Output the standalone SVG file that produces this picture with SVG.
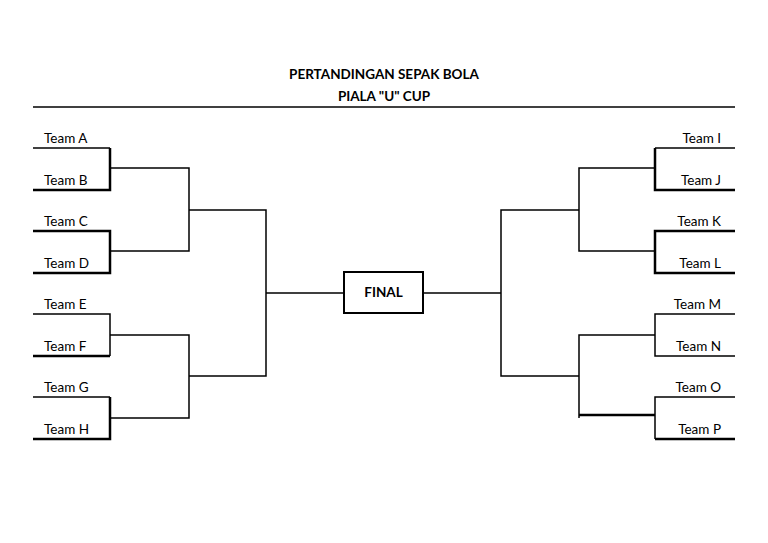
<svg xmlns="http://www.w3.org/2000/svg" width="768" height="543" viewBox="0 0 768 543">
<style>
text{font-family:Lato,"Open Sans",sans-serif;font-size:13.5px;fill:#000}
.t{font-weight:bold}
.l{stroke:#000;stroke-width:1.5;fill:none}
.b{stroke:#000;stroke-width:2.5;fill:none}
</style>
<rect width="768" height="543" fill="#fff"/>
<g id="title">
<text class="t" x="384" y="79" text-anchor="middle">PERTANDINGAN SEPAK BOLA</text>
<text class="t" x="384" y="101" text-anchor="middle">PIALA "U" CUP</text>
<line class="l" x1="33" y1="107" x2="735" y2="107"/>
</g>
<g id="connectors">
<path class="l" d="M33 148H110"/><path class="b" d="M110 148V190H33"/>
<path class="b" d="M33 231H110V273H33"/>
<path class="l" d="M33 314H110V356"/><path class="b" d="M110 356H33"/>
<path class="l" d="M33 397H110"/><path class="b" d="M110 397V439H33"/>
<path class="l" d="M110 168H189V251H110M110 335H189V418H110M189 210H266V376H189M266 293H344"/>
<path class="l" d="M735 148H655"/><path class="b" d="M655 148V190H735"/>
<path class="b" d="M735 231H655V273H735"/>
<path class="l" d="M735 314H655V356H735"/>
<path class="l" d="M735 397H655V439"/><path class="b" d="M655 439H735"/>
<path class="l" d="M655 168H579V251H655M655 335H579V418"/><path class="b" d="M579 415H655"/>
<path class="l" d="M579 210H501V376H579M501 293H423"/>
</g>
<g id="final"><rect x="344" y="272" width="79" height="41" fill="#fff" stroke="#000" stroke-width="2"/><text class="t" x="383.5" y="297" text-anchor="middle">FINAL</text></g>
<g id="left">
<text x="44" y="143">Team A</text><text x="44" y="185">Team B</text><text x="44" y="226">Team C</text><text x="44" y="268">Team D</text>
<text x="44" y="309">Team E</text><text x="44" y="351">Team F</text><text x="44" y="392">Team G</text><text x="44" y="434">Team H</text>
</g>
<g id="right" text-anchor="end">
<text x="721" y="143">Team I</text><text x="721" y="185">Team J</text><text x="721" y="226">Team K</text><text x="721" y="268">Team L</text>
<text x="721" y="309">Team M</text><text x="721" y="351">Team N</text><text x="721" y="392">Team O</text><text x="721" y="434">Team P</text>
</g>
</svg>
